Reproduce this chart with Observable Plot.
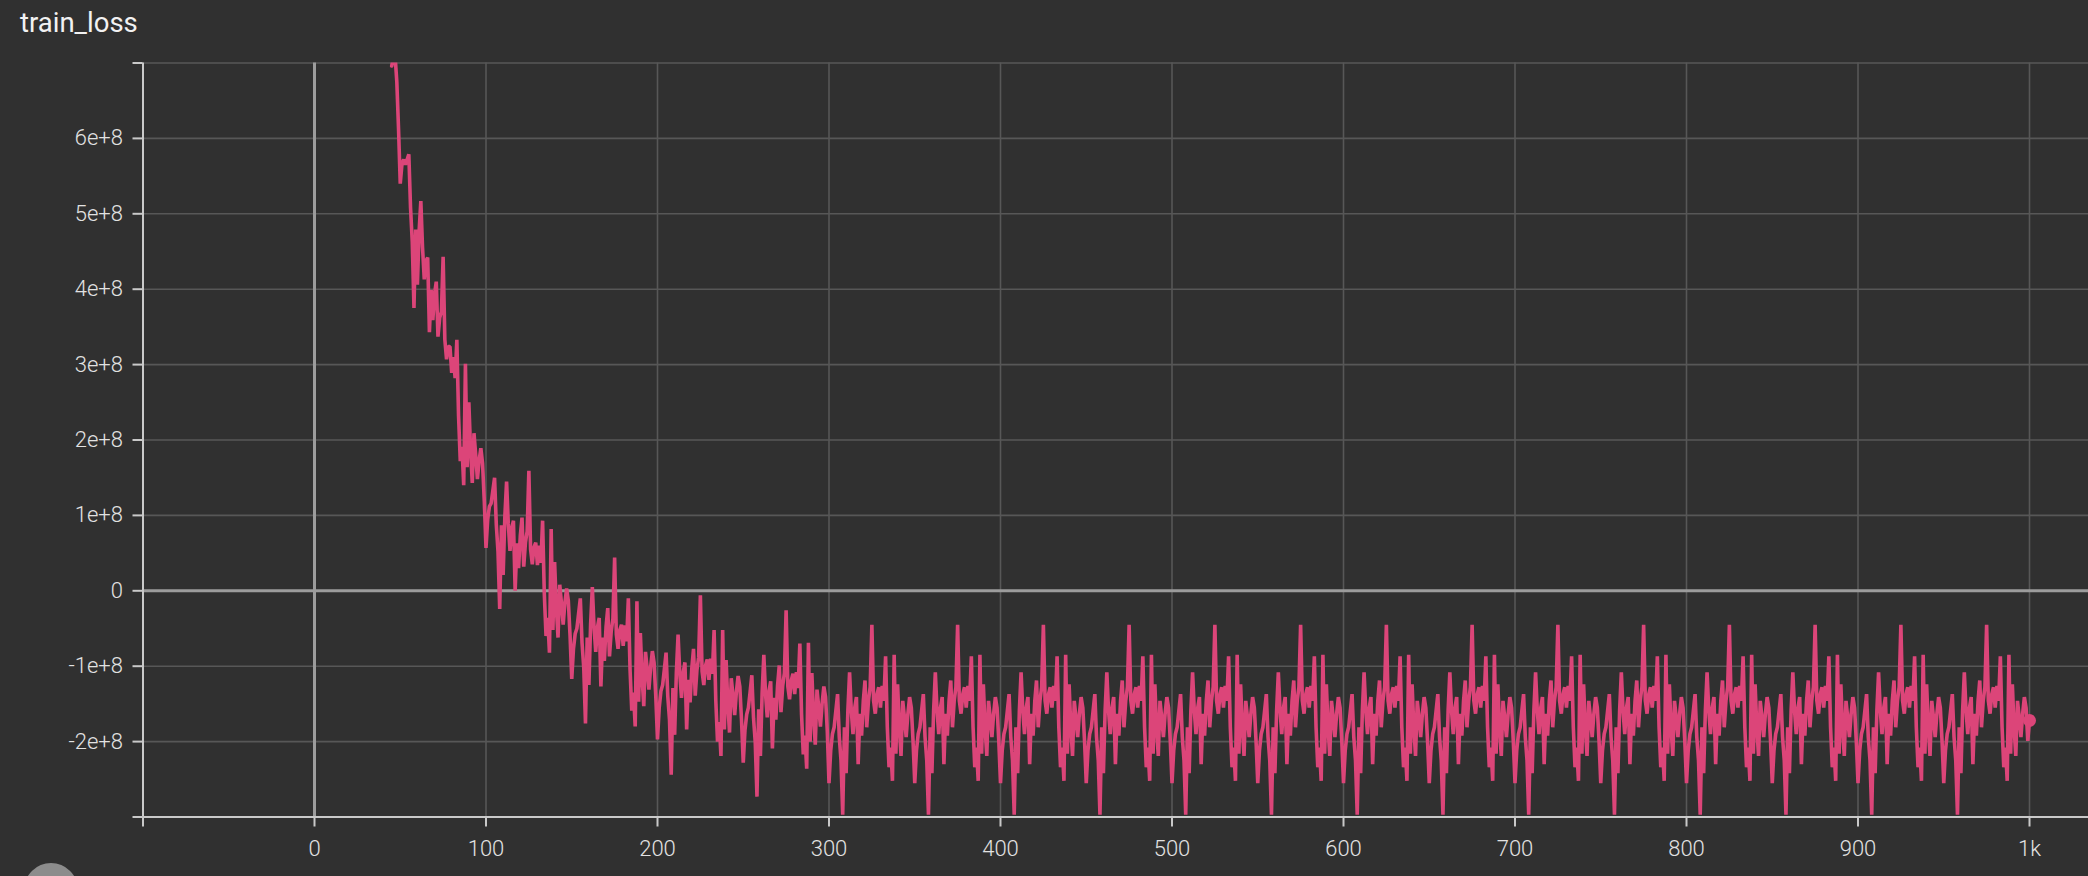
<!DOCTYPE html>
<html><head><meta charset="utf-8">
<script src="https://cdn.jsdelivr.net/npm/d3@7"></script>
<script src="https://cdn.jsdelivr.net/npm/@observablehq/plot@0.6"></script>
<style>
html,body{margin:0;padding:0;background:#303030;width:2088px;height:876px;overflow:hidden;}
#wrap{position:relative;width:2088px;height:876px;}
#chart{position:absolute;left:0;top:0;}
#title{position:absolute;left:20px;top:6px;font-family:Roboto,sans-serif;font-size:27.5px;color:#f2f2f2;}
#btn{position:absolute;left:24px;top:863px;width:54px;height:54px;border-radius:50%;background:#8c8c8c;}
svg text{font-weight:300;}
</style></head><body>
<div id="wrap"><div id="chart"></div><div id="title">train_loss</div><div id="btn"></div></div>
<script>
// train_loss values in units of 1e6
const firstStep = 45;
const earlyLoss = [
  696,707,709,675,613,
  540,566,572,565,572,579,508,463,375,479,
  406,477,517,455,413,438,442,343,399,359,
  394,410,337,362,370,443,333,307,324,324,
  289,310,282,333,232,172,191,140,301,164,
  250,187,143,209,180,148,173,189,169,119,
  57,95,112,116,133,150,88,52,-24,87,
  21,99,145,89,53,83,93,0,63,30,
  73,97,32,64,79,159,55,35,58,64,
  34,60,37,93,-4,-60,-36,-82,82,-52,
  38,-22,-62,8,-16,-45,-16,3,-13,-59,
  -117,-77,-57,-50,-30,-10,-69,-102,-176,-62,
  -125,-44,5,-48,-81,-48,-36,-127,-62,-93,
  -48,-23,-87,-54,-37,44,-58,-77,-52,-45,
  -73,-46,-67,-10,-105,-159,-135,-180,-14,-147,
  -56,-114,-153,-81,-104,-131,-101,-80,-95,-140,
  -197,-155,-133,-125,-104,-82,-140,-171,-244,-129,
  -191,-108,-58,-110,-142,-108,-95,-184,-118,-148,
  -103,-77,-139,-105,-88,-6,-107,-125,-99,-91,
  -118,-90,-110,-52,-146,-200,-174,-219,-52,-184,
  -92,-150,-188,-116,-138,-165,-134,-113,-127,-172,
  -228,-185,-164,-155,-134,-112,-169,-201,-273,-157,
  -219,-136,-85,-137,-168,-133,-120,-209,-142,-171,
  -126,-99,-161,-126,-109,-26,-127,-144,-119,-110,
  -137,-108,-129,-70,-164,-217,-192,-236,-69,-200,
  -109,-166,-204,-131,-154,-180,-149,-127,-141,-186
];
// the steady part of the curve repeats this 50-step pattern exactly (steps 300..999)
const cycleStart = 300;
const cycleLoss = [
  -255,-212,-190,-181,-159,-137,-194,-225,-297,-181,
  -242,-159,-108,-159,-190,-155,-141,-230,-163,-192,
  -146,-119,-181,-146,-128,-45,-146,-163,-137,-128,
  -155,-126,-146,-87,-181,-234,-208,-252,-85,-216,
  -124,-181,-219,-146,-168,-194,-163,-141,-155,-199
];
const cycleRepeats = 14;
const lastStep = 1000;
const lastLoss = -172;

const xTicks = [-100,0,100,200,300,400,500,600,700,800,900,1000];
const xTickLabels = ["","0","100","200","300","400","500","600","700","800","900","1k"];
const yTicks = [-3e8,-2e8,-1e8,0,1e8,2e8,3e8,4e8,5e8,6e8,7e8];
const yTickLabels = ["","-2e+8","-1e+8","0","1e+8","2e+8","3e+8","4e+8","5e+8","6e+8",""];

const data = [];
earlyLoss.forEach((v, i) => data.push({step: firstStep + i, loss: v * 1e6}));
for (let r = 0; r < cycleRepeats; r++)
  cycleLoss.forEach((v, i) => data.push({step: cycleStart + r * cycleLoss.length + i, loss: v * 1e6}));
data.push({step: lastStep, loss: lastLoss * 1e6});

const lineColor = "#dc4579";
const gridColor = "#575757";
const zeroColor = "#9c9c9c";
const axisColor = "#c9c9c9";
const textColor = "#e2e2e2";

const chart = Plot.plot({
  width: 2088, height: 876,
  marginTop: 62.5, marginBottom: 59.5, marginLeft: 142.5, marginRight: 0,
  style: {background: "transparent", fontFamily: "Roboto, sans-serif", fontSize: "22px", color: textColor},
  x: {domain: [-100, 1034.4]},
  y: {domain: [-3e8, 7e8]},
  marks: [
    Plot.ruleY(yTicks.filter(d => d !== 0 && d !== -3e8), {stroke: gridColor, strokeWidth: 1.6}),
    Plot.ruleX(xTicks.filter(d => d > 0), {stroke: gridColor, strokeWidth: 1.6}),
    Plot.ruleY([0], {stroke: zeroColor, strokeWidth: 3}),
    Plot.ruleX([0], {stroke: zeroColor, strokeWidth: 3}),
    Plot.ruleX([-100], {stroke: axisColor, strokeWidth: 2}),
    Plot.ruleY([-3e8], {stroke: axisColor, strokeWidth: 2}),
    Plot.line(data, {x: "step", y: "loss", stroke: lineColor, strokeWidth: 3.6, clip: true, strokeLinejoin: "miter"}),
    Plot.dot([data[data.length - 1]], {x: "step", y: "loss", r: 6.5, fill: lineColor, stroke: null}),
    Plot.axisX({ticks: xTicks, tickFormat: d => xTickLabels[xTicks.indexOf(d)], tickSize: 10, tickPadding: 13,
      stroke: axisColor, strokeWidth: 2, fill: textColor, label: null}),
    Plot.axisY({ticks: yTicks, tickFormat: d => yTickLabels[yTicks.indexOf(d)], tickSize: 10, tickPadding: 10,
      stroke: axisColor, strokeWidth: 2, fill: textColor, label: null})
  ]
});
document.getElementById("chart").appendChild(chart);
</script>
</body></html>
